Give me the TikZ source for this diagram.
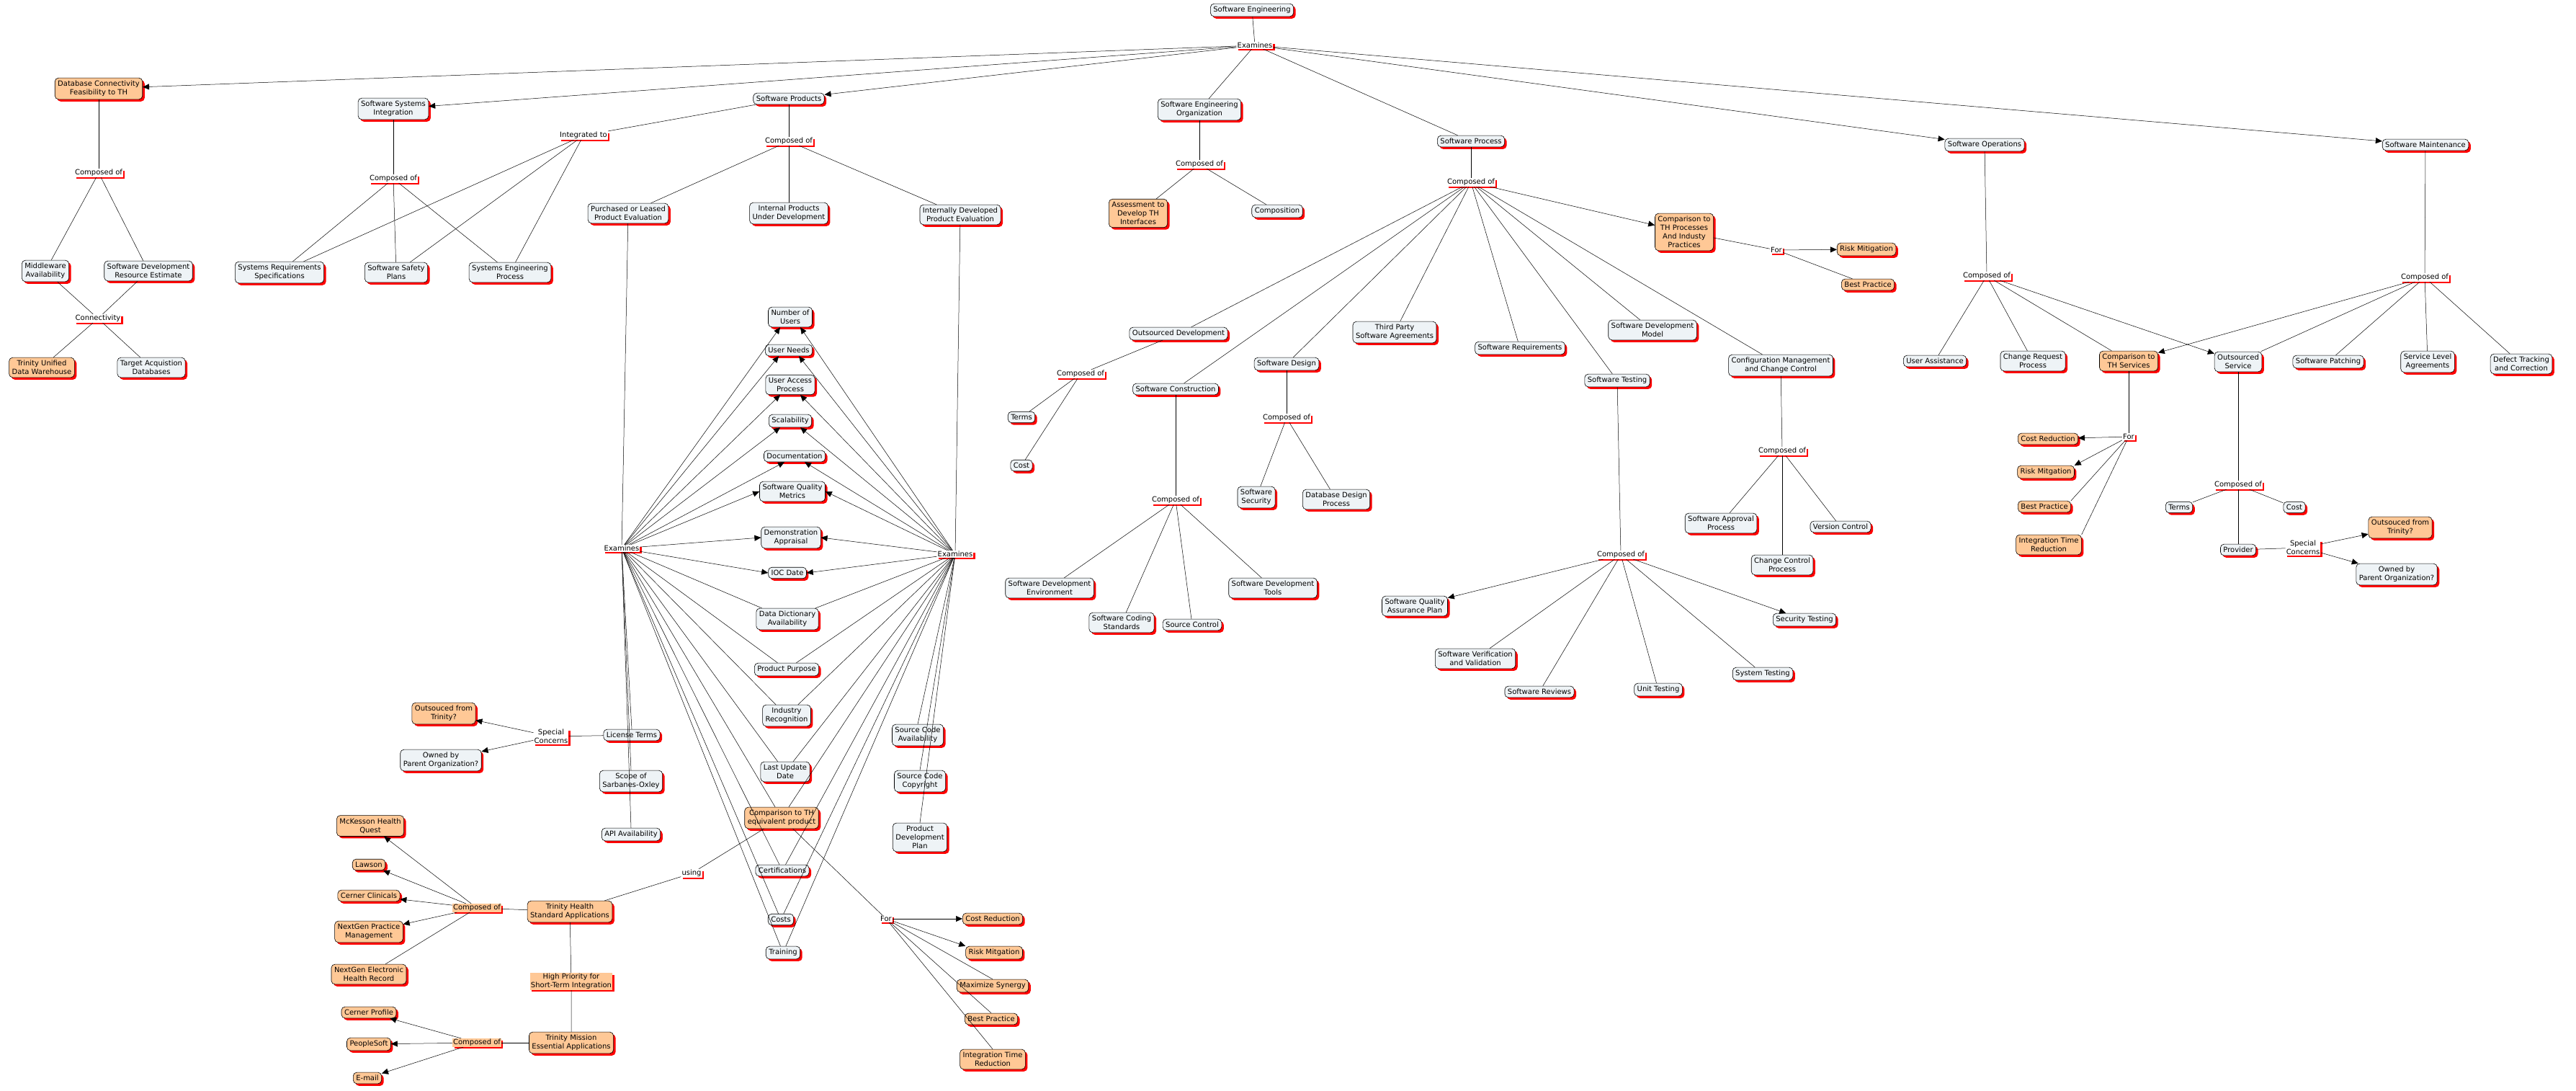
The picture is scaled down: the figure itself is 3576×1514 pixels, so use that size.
\documentclass[tikz,border=0pt]{standalone}
\usepackage{fontspec}
\setmainfont{DejaVu Sans}
\usetikzlibrary{arrows.meta,shadows,positioning}
\definecolor{boxgray}{HTML}{EEF3F6}
\definecolor{boxorange}{HTML}{FFC896}
\tikzset{concept/.style={
         draw,rounded corners=5pt,fill=#1,align=center,inner sep=4pt,line width=0.6pt,
         drop shadow={fill=red,shadow xshift=3pt,shadow yshift=-3pt,opacity=1}},
         concept/.default=boxgray}
\tikzset{linkword/.style={
         fill=#1,align=center,inner sep=1pt,
         drop shadow={fill=red,shadow xshift=2.5pt,shadow yshift=-2.5pt,opacity=1}},
         linkword/.default=white}
\tikzset{arr/.style={-{Triangle[length=9pt,width=8pt]}}}

\begin{document}
\begin{tikzpicture}[x=1pt,y=-1pt,font=\fontsize{10}{12}\selectfont,line width=0.5pt,
ctr/.style={concept},ctr-hot/.style={concept=boxorange},
lnk/.style={linkword},lnk-hot/.style={linkword=boxorange}]
\useasboundingbox[fill=white] (0,0) rectangle (3576,1514);

% top level
\node (se) at (1738,14) [ctr] {Software Engineering};
\node (ex0) at (1742,63) [lnk] {Examines};
\node (dbc) at (137,123) [ctr-hot] {Database Connectivity\\Feasibility to TH};
\node (ssi) at (546,151) [ctr] {Software Systems\\Integration};
\node (sp) at (1095,137) [ctr] {Software Products};
\node (seo) at (1665,152) [ctr] {Software Engineering\\Organization};
\node (spr) at (2042,196) [ctr] {Software Process};
\node (sop) at (2755,201) [ctr] {Software Operations};
\node (sm) at (3367,201) [ctr] {Software Maintenance};
\draw (se) -- (ex0);
\foreach \n in {dbc,ssi,sp,sop,sm} {\draw [arr] (ex0) -- (\n);}
\foreach \n in {seo,spr} {\draw (ex0) -- (\n);}

% database connectivity
\node (co1) at (137,240) [lnk] {Composed of};
\node (mwa) at (63,376) [ctr] {Middleware\\Availability};
\node (sdre) at (206,376) [ctr] {Software Development\\Resource Estimate};
\node (conn) at (136,442) [lnk] {Connectivity};
\node (tudw) at (58,510) [ctr-hot] {Trinity Unified\\Data Warehouse};
\node (tad) at (210,510) [ctr] {Target Acquistion\\Databases};
\draw (dbc) -- (co1);
\foreach \n in {mwa,sdre,tudw,tad} {\draw (conn) -- (\n);}
\foreach \n in {mwa,sdre} {\draw (co1) -- (\n);}

% systems integration
\node (co2) at (546,248) [lnk] {Composed of};
\node (srs) at (388,378) [ctr] {Systems Requirements\\Specifications};
\node (ssp) at (550,378) [ctr] {Software Safety\\Plans};
\node (sep) at (708,378) [ctr] {Systems Engineering\\Process};
\node (int) at (810,188) [lnk] {Integrated to};
\draw (ssi) -- (co2);
\foreach \n in {srs,ssp,sep} {\draw (co2) -- (\n); \draw (int) -- (\n);}
\draw (sp) -- (int);

% software products
\node (co3) at (1095,196) [lnk] {Composed of};
\node (plep) at (872,296) [ctr] {Purchased or Leased\\Product Evaluation};
\node (ipud) at (1095,296) [ctr] {Internal Products\\Under Development};
\node (idpe) at (1333,298) [ctr] {Internally Developed\\Product Evaluation};
\draw (sp) -- (co3);
\foreach \n in {plep,ipud,idpe} {\draw (co3) -- (\n);}
\node (ex1) at (863,761) [lnk] {Examines};
\node (ex2) at (1326,769) [lnk] {Examines};
\draw (plep) -- (ex1);
\draw (idpe) -- (ex2);

% examined items
\node (nou) at (1097,440) [ctr] {Number of\\Users};
\node (un) at (1095,486) [ctr] {User Needs};
\node (uap) at (1097,534) [ctr] {User Access\\Process};
\node (scal) at (1097,584) [ctr] {Scalability};
\node (doc) at (1103,633) [ctr] {Documentation};
\node (sqm) at (1100,682) [ctr] {Software Quality\\Metrics};
\node (demo) at (1098,746) [ctr] {Demonstration\\Appraisal};
\node (ioc) at (1093,795) [ctr] {IOC Date};
\node (dda) at (1093,859) [ctr] {Data Dictionary\\Availability};
\node (ppur) at (1092,929) [ctr] {Product Purpose};
\node (ir) at (1092,993) [ctr] {Industry\\Recognition};
\node (lud) at (1090,1071) [ctr] {Last Update\\Date};
\node (cte) at (1085,1135) [ctr-hot] {Comparison to TH\\equivalent product};
\node (cert) at (1086,1208) [ctr] {Certifications};
\node (costs) at (1084,1276) [ctr] {Costs};
\node (train) at (1087,1322) [ctr] {Training};
\foreach \n in {nou,un,uap,scal,doc} {
  \draw [arr] (ex1) -- ([xshift=-14pt]\n.south);
  \draw [arr] (ex2) -- ([xshift=14pt]\n.south);}
\foreach \n in {sqm,demo,ioc} {\draw [arr] (ex1) -- (\n.west); \draw [arr] (ex2) -- (\n.east);}
\foreach \n in {dda,ppur,ir,lud,cte,cert,costs,train} {\draw (ex1) -- (\n); \draw (ex2) -- (\n);}

\node (lt) at (877,1020) [ctr] {License Terms};
\node (sox) at (876,1084) [ctr] {Scope of\\Sarbanes-Oxley};
\node (api) at (876,1158) [ctr] {API Availability};
\foreach \n in {lt,sox,api} {\draw (ex1) -- (\n.north);}
\node (sca) at (1274,1020) [ctr] {Source Code\\Availability};
\node (scc) at (1277,1084) [ctr] {Source Code\\Copyright};
\node (pdp) at (1277,1162) [ctr] {Product\\Development\\Plan};
\foreach \n in {sca,scc,pdp} {\draw (ex2) -- (\n.north);}

\node (sc1) at (765,1022) [lnk] {Special\\Concerns};
\node (oft1) at (616,990) [ctr-hot] {Outsouced from\\Trinity?};
\node (opo1) at (612,1055) [ctr] {Owned by\\Parent Organization?};
\draw (lt) -- (sc1);
\foreach \n in {oft1,opo1} {\draw [arr] (sc1) -- (\n);}

% trinity applications
\node (thsa) at (791,1265) [ctr-hot] {Trinity Health\\Standard Applications};
\node (using) at (960,1212) [lnk] {using};
\draw (thsa) -- (using) -- (cte);
\node (co4) at (662,1260) [lnk-hot] {Composed of};
\node (mck) at (514,1146) [ctr-hot] {McKesson Health\\Quest};
\node (law) at (512,1200) [ctr-hot] {Lawson};
\node (cc) at (512,1243) [ctr-hot] {Cerner Clinicals};
\node (ngpm) at (512,1293) [ctr-hot] {NextGen Practice\\Management};
\node (nge) at (512,1352) [ctr-hot] {NextGen Electronic\\Health Record};
\draw (thsa) -- (co4);
\foreach \n in {mck,law,cc,ngpm} {\draw [arr] (co4) -- (\n);}
\draw (co4) -- (nge);
\node (hp) at (793,1362) [lnk-hot] {High Priority for\\Short-Term Integration};
\node (tmea) at (793,1447) [ctr-hot] {Trinity Mission\\Essential Applications};
\draw (thsa) -- (hp) -- (tmea);
\node (co5) at (662,1447) [lnk-hot] {Composed of};
\node (cp) at (512,1405) [ctr-hot] {Cerner Profile};
\node (ps) at (512,1449) [ctr-hot] {PeopleSoft};
\node (em) at (510,1496) [ctr-hot] {E-mail};
\draw (tmea) -- (co5);
\foreach \n in {cp,ps,em} {\draw [arr] (co5) -- (\n);}

% comparison purposes
\node (for1) at (1230,1275) [lnk] {For};
\node (cr1) at (1378,1275) [ctr-hot] {Cost Reduction};
\node (rm1) at (1380,1322) [ctr-hot] {Risk Mitgation};
\node (ms) at (1378,1368) [ctr-hot] {Maximize Synergy};
\node (bp1) at (1376,1414) [ctr-hot] {Best Practice};
\node (itr1) at (1378,1470) [ctr-hot] {Integration Time\\Reduction};
\draw (cte) -- (for1);
\draw [arr] (for1) -- (cr1);
\draw [arr] (for1) -- (rm1.north west);
\foreach \n in {ms,bp1,itr1} {\draw (for1) -- (\n.north);}

% engineering organization
\node (co6) at (1665,228) [lnk] {Composed of};
\node (adi) at (1580,296) [ctr-hot] {Assessment to\\Develop TH\\Interfaces};
\node (comp) at (1773,293) [ctr] {Composition};
\draw (seo) -- (co6);
\foreach \n in {adi,comp} {\draw (co6) -- (\n);}

% software process
\node (co7) at (2042,253) [lnk] {Composed of};
\node (ctp) at (2338,322) [ctr-hot] {Comparison to\\TH Processes\\And Industy\\Practices};
\node (for2) at (2466,347) [lnk] {For};
\node (rm2) at (2591,346) [ctr-hot] {Risk Mitigation};
\node (bp2) at (2593,395) [ctr-hot] {Best Practice};
\draw (spr) -- (co7);
\draw [arr] (co7) -- (ctp);
\draw (ctp) -- (for2);
\draw [arr] (for2) -- (rm2);
\draw (for2) -- (bp2);
\node (od) at (1636,463) [ctr] {Outsourced Development};
\node (sc) at (1632,540) [ctr] {Software Construction};
\node (sd) at (1786,505) [ctr] {Software Design};
\node (tpsa) at (1936,461) [ctr] {Third Party\\Software Agreements};
\node (sreq) at (2110,483) [ctr] {Software Requirements};
\node (st) at (2245,528) [ctr] {Software Testing};
\node (sdm) at (2294,458) [ctr] {Software Development\\Model};
\node (cmcc) at (2472,507) [ctr] {Configuration Management\\and Change Control};
\foreach \n in {od,sc,sd,tpsa,sreq,st,sdm,cmcc} {\draw (co7) -- (\n);}

\node (co8) at (1500,519) [lnk] {Composed of};
\node (terms1) at (1418,579) [ctr] {Terms};
\node (cost1) at (1418,646) [ctr] {Cost};
\draw (od) -- (co8);
\foreach \n in {terms1,cost1} {\draw (co8) -- (\n);}

\node (co9) at (1632,694) [lnk] {Composed of};
\node (sde) at (1457,816) [ctr] {Software Development\\Environment};
\node (scs) at (1557,864) [ctr] {Software Coding\\Standards};
\node (srcc) at (1655,867) [ctr] {Source Control};
\node (sdt) at (1767,816) [ctr] {Software Development\\Tools};
\draw (sc) -- (co9);
\foreach \n in {sde,scs,srcc,sdt} {\draw (co9) -- (\n);}

\node (co10) at (1786,580) [lnk] {Composed of};
\node (ssec) at (1744,690) [ctr] {Software\\Security};
\node (ddp) at (1855,693) [ctr] {Database Design\\Process};
\draw (sd) -- (co10);
\foreach \n in {ssec,ddp} {\draw (co10) -- (\n);}

\node (co11) at (2250,770) [lnk] {Composed of};
\node (sqap) at (1964,841) [ctr] {Software Quality\\Assurance Plan};
\node (svv) at (2048,914) [ctr] {Software Verification\\and Validation};
\node (srev) at (2137,960) [ctr] {Software Reviews};
\node (ut) at (2302,957) [ctr] {Unit Testing};
\node (syst) at (2447,935) [ctr] {System Testing};
\node (sect) at (2505,860) [ctr] {Security Testing};
\draw (st) -- (co11);
\foreach \n in {sqap,sect} {\draw [arr] (co11) -- (\n);}
\foreach \n in {svv,srev,ut,syst} {\draw (co11) -- (\n);}

\node (co12) at (2474,626) [lnk] {Composed of};
\node (sap) at (2389,726) [ctr] {Software Approval\\Process};
\node (vc) at (2555,731) [ctr] {Version Control};
\node (ccp) at (2474,784) [ctr] {Change Control\\Process};
\draw (cmcc) -- (co12);
\foreach \n in {sap,vc,ccp} {\draw (co12) -- (\n);}

% operations and maintenance
\node (co13) at (2758,383) [lnk] {Composed of};
\node (co14) at (3366,385) [lnk] {Composed of};
\node (ua) at (2686,501) [ctr] {User Assistance};
\node (crp) at (2822,501) [ctr] {Change Request\\Process};
\node (cts) at (2955,501) [ctr-hot] {Comparison to\\TH Services};
\node (os) at (3107,502) [ctr] {Outsourced\\Service};
\node (sptch) at (3232,502) [ctr] {Software Patching};
\node (sla) at (3370,502) [ctr] {Service Level\\Agreements};
\node (dtc) at (3500,505) [ctr] {Defect Tracking\\and Correction};
\draw (sop) -- (co13);
\draw (sm) -- (co14);
\foreach \n in {ua,crp,cts} {\draw (co13) -- (\n);}
\draw [arr] (co13) -- (os);
\draw [arr] (co14) -- (cts);
\foreach \n in {os,sptch,sla,dtc} {\draw (co14) -- (\n);}

\node (for3) at (2955,606) [lnk] {For};
\node (cr2) at (2843,609) [ctr-hot] {Cost Reduction};
\node (rm3) at (2840,655) [ctr-hot] {Risk Mitgation};
\node (bp3) at (2838,703) [ctr-hot] {Best Practice};
\node (itr2) at (2844,756) [ctr-hot] {Integration Time\\Reduction};
\draw (cts) -- (for3);
\draw [arr] (for3) -- (cr2);
\draw [arr] (for3) -- (rm3.north east);
\foreach \n in {bp3,itr2} {\draw (for3) -- (\n.north east);}

\node (co15) at (3107,673) [lnk] {Composed of};
\node (terms2) at (3025,704) [ctr] {Terms};
\node (cost2) at (3185,704) [ctr] {Cost};
\node (prov) at (3107,763) [ctr] {Provider};
\node (sc2) at (3197,760) [lnk] {Special\\Concerns};
\node (oft2) at (3332,732) [ctr-hot] {Outsouced from\\Trinity?};
\node (opo2) at (3327,797) [ctr] {Owned by\\Parent Organization?};
\draw (os) -- (co15);
\foreach \n in {terms2,cost2,prov} {\draw (co15) -- (\n);}
\draw (prov) -- (sc2);
\foreach \n in {oft2,opo2} {\draw [arr] (sc2) -- (\n);}

\end{tikzpicture}
\end{document}
